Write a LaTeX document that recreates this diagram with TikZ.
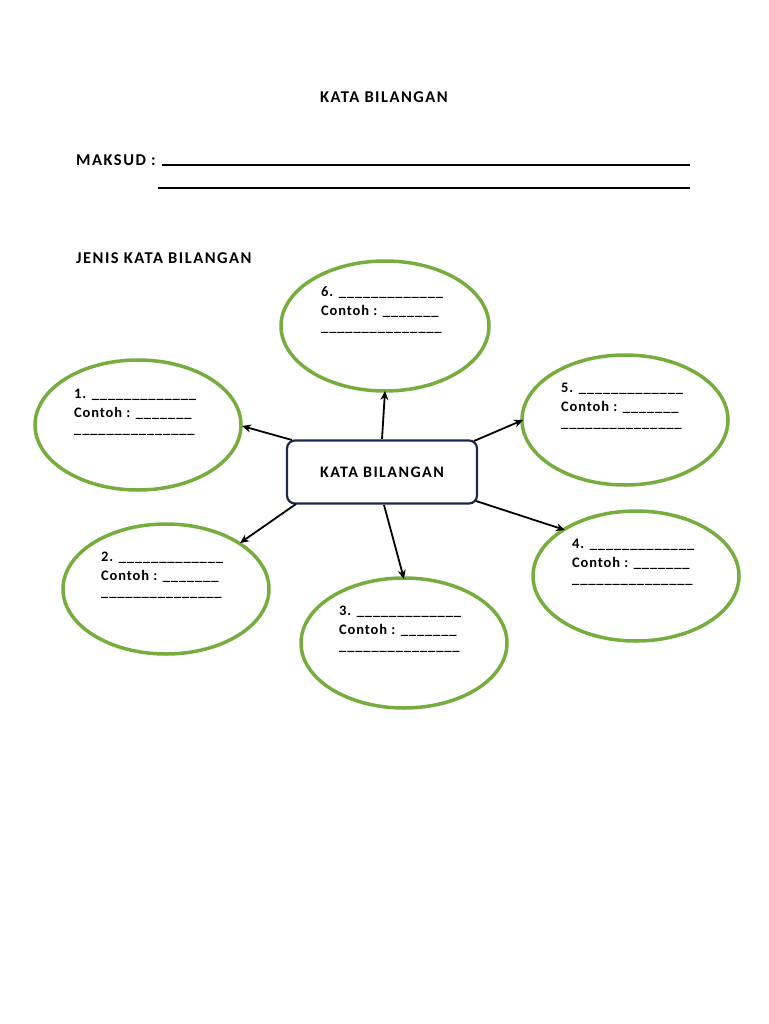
\documentclass[tikz,border=0pt]{standalone}
\usepackage{fontspec}
\setmainfont{Carlito}
\usetikzlibrary{arrows.meta}
\definecolor{ellg}{HTML}{77AC3F}
\definecolor{navy}{HTML}{1C2A4F}
\tikzset{
 conn/.style={-{Stealth[length=9pt,width=8pt]},line width=1.8pt},
 lbl/.style={anchor=west,font=\fontsize{14.5}{16}\selectfont\bfseries\addfontfeatures{LetterSpace=6},inner sep=0pt},
 head/.style={anchor=west,font=\fontsize{16.5}{18}\selectfont\bfseries\addfontfeatures{LetterSpace=9},inner sep=0pt}
}
\newcommand{\bubtext}[4]{%
 \node[lbl] (#1a) at (#2,#3) {#4. \_\_\_\_\_\_\_\_\_\_\_\_\_};
 \node[lbl] (#1b) at (#2,#3+18) {Contoh : \_\_\_\_\_\_\_};
 \node[lbl] (#1c) at (#2,#3+40) {\_\_\_\_\_\_\_\_\_\_\_\_\_\_\_};}
\begin{document}
\begin{tikzpicture}[x=1pt,y=-1pt]
\useasboundingbox[fill=white] (0,0) rectangle (768,1024);
\node[head,anchor=center] (title) at (384,97) {KATA BILANGAN};
\node[head] (maksud) at (76,160) {MAKSUD :};
\draw[line width=1.8pt] (162,165) coordinate (l1a) -- (690,165) coordinate (l1b);
\draw[line width=1.8pt] (158,188) coordinate (l2a) -- (690,188) coordinate (l2b);
\node[head] (jenis) at (76,258) {JENIS KATA BILANGAN};
\draw[draw=ellg,line width=3.5pt] (385,326) ellipse [x radius=104,y radius=65];
\draw[draw=ellg,line width=3.5pt] (138,425) ellipse [x radius=103,y radius=65];
\draw[draw=ellg,line width=3.5pt] (625,420) ellipse [x radius=103,y radius=65];
\draw[draw=ellg,line width=3.5pt] (166,589) ellipse [x radius=103,y radius=65];
\draw[draw=ellg,line width=3.5pt] (636,576) ellipse [x radius=103,y radius=65];
\draw[draw=ellg,line width=3.5pt] (404,643) ellipse [x radius=103,y radius=65];
\coordinate (e6) at (385,391);
\coordinate (e1) at (242,426);
\coordinate (e5) at (523,420);
\coordinate (e2) at (240,543);
\coordinate (e4) at (565,530);
\coordinate (e3) at (404,579);
\node[draw=navy,line width=2.2pt,rounded corners=8pt,minimum width=190pt,minimum height=63pt,
 font=\fontsize{16}{18}\selectfont\bfseries\addfontfeatures{LetterSpace=9}] (center) at (382,472) {KATA BILANGAN};
\coordinate (s6) at (382,439);
\coordinate (s1) at (292,440);
\coordinate (s5) at (474,441);
\coordinate (s2) at (296,504);
\coordinate (s4) at (476,501);
\coordinate (s3) at (384,505);
\draw[conn] (s6) -- (e6);
\draw[conn] (s1) -- (e1);
\draw[conn] (s5) -- (e5);
\draw[conn] (s2) -- (e2);
\draw[conn] (s4) -- (e4);
\draw[conn] (s3) -- (e3);
\bubtext{t6}{321}{293}{6}
\bubtext{t1}{74}{395}{1}
\bubtext{t5}{561}{389}{5}
\bubtext{t2}{101}{558}{2}
\bubtext{t4}{572}{545}{4}
\bubtext{t3}{339}{612}{3}
\end{tikzpicture}
\end{document}
